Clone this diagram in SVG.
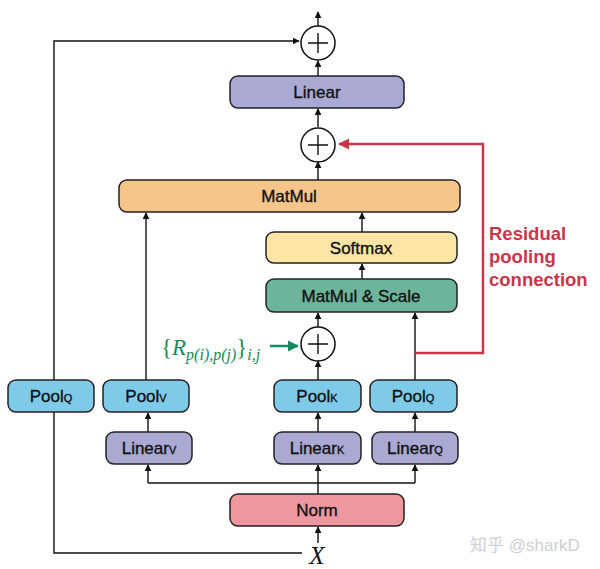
<svg xmlns="http://www.w3.org/2000/svg" width="600" height="569" viewBox="0 0 600 569">
<defs>
<marker id="ah" viewBox="0 0 10 10" refX="9" refY="5" markerWidth="5" markerHeight="5" orient="auto"><path d="M0,0L10,5L0,10z" fill="#111"/></marker>
<marker id="ahr" viewBox="0 0 10 10" refX="9" refY="5" markerWidth="4.5" markerHeight="4.5" orient="auto"><path d="M0,0L10,5L0,10z" fill="#c8364a"/></marker>
<marker id="ahg" viewBox="0 0 10 10" refX="9" refY="5" markerWidth="4.5" markerHeight="4.5" orient="auto"><path d="M0,0L10,5L0,10z" fill="#148a5c"/></marker>
</defs>
<style>
.b{stroke:#222;stroke-width:1.5}
.t{font-family:"Liberation Sans",Arial,sans-serif;font-size:17px;fill:#111;stroke:#111;stroke-width:0.35;text-anchor:middle}
.s{font-size:11px}
.c{stroke:#111;stroke-width:1.4;fill:none}
.cm{stroke:#111;stroke-width:1.4;fill:none;marker-end:url(#ah)}
.lin{fill:#a9a9d3}.pool{fill:#7ecbe9}
.pc{fill:#fff;stroke:#111;stroke-width:1.5}
</style>
<rect width="600" height="569" fill="#fff"/>
<g id="connectors">
<path class="cm" d="M318,26V12"/>
<path class="cm" d="M318,76V61"/>
<path class="cm" d="M318,127V109"/>
<path class="cm" d="M318,180V162"/>
<path class="cm" d="M362,232V213"/>
<path class="cm" d="M362,279V264"/>
<path class="cm" d="M318,327V313"/>
<path class="cm" d="M415,380V313"/>
<path class="cm" d="M146,380V213"/>
<path class="cm" d="M318,380V361"/>
<path class="cm" d="M148,432V413"/>
<path class="cm" d="M318,432V413"/>
<path class="cm" d="M415,432V413"/>
<path class="c" d="M148,483H415"/>
<path class="cm" d="M148,483V465"/>
<path class="cm" d="M318,494V465"/>
<path class="cm" d="M415,483V465"/>
<path class="cm" d="M318,543V527"/>
<path class="c" d="M302,553H54V412"/>
<path class="cm" d="M54,380V41H299"/>
<path d="M415,353H483V144H339" fill="none" stroke="#c8364a" stroke-width="2.5" marker-end="url(#ahr)"/>
<path d="M270,346H298" fill="none" stroke="#148a5c" stroke-width="2.5" marker-end="url(#ahg)"/>
</g>
<g id="plus1"><circle class="pc" cx="318" cy="43" r="17"/><path class="c" stroke-width="2.2" d="M308,43H328M318,33V53"/></g>
<g id="linear"><rect class="b lin" x="230" y="76" width="174" height="32" rx="8"/><text class="t" x="317" y="98">Linear</text></g>
<g id="plus2"><circle class="pc" cx="318" cy="145" r="17"/><path class="c" stroke-width="2.2" d="M308,145H328M318,135V155"/></g>
<g id="matmul"><rect class="b" fill="#f7c48a" x="119" y="180" width="341" height="32" rx="8"/><text class="t" x="289" y="202">MatMul</text></g>
<g id="softmax"><rect class="b" fill="#fde5a5" x="266" y="232" width="191" height="31" rx="8"/><text class="t" x="361" y="254">Softmax</text></g>
<g id="matmulscale"><rect class="b" fill="#6db59a" x="266" y="279" width="191" height="33" rx="8"/><text class="t" x="361" y="302">MatMul &amp; Scale</text></g>
<g id="plus3"><circle class="pc" cx="318" cy="344" r="17"/><path class="c" stroke-width="2.2" d="M308,344H328M318,334V354"/></g>
<g id="rpos"><text x="161" y="355" font-family="'Liberation Serif','Times New Roman',serif" font-size="23" fill="#148a5c">{<tspan font-style="italic">R</tspan><tspan font-style="italic" font-size="16" dy="5">p(i),p(j)</tspan><tspan dy="-5">}</tspan><tspan font-style="italic" font-size="16" dy="5">i,j</tspan></text></g>
<g id="poolq1"><rect class="b pool" x="8" y="380" width="86" height="32" rx="8"/><text class="t" x="51" y="402">Pool<tspan class="s">Q</tspan></text></g>
<g id="poolv"><rect class="b pool" x="103" y="380" width="86" height="32" rx="8"/><text class="t" x="146" y="402">Pool<tspan class="s">V</tspan></text></g>
<g id="poolk"><rect class="b pool" x="274" y="380" width="87" height="32" rx="8"/><text class="t" x="317" y="402">Pool<tspan class="s">K</tspan></text></g>
<g id="poolq2"><rect class="b pool" x="370" y="380" width="87" height="32" rx="8"/><text class="t" x="413" y="402">Pool<tspan class="s">Q</tspan></text></g>
<g id="linearv"><rect class="b lin" x="106" y="432" width="86" height="32" rx="8"/><text class="t" x="149" y="454">Linear<tspan class="s">V</tspan></text></g>
<g id="lineark"><rect class="b lin" x="274" y="432" width="87" height="32" rx="8"/><text class="t" x="317" y="454">Linear<tspan class="s">K</tspan></text></g>
<g id="linearq"><rect class="b lin" x="372" y="432" width="86" height="32" rx="8"/><text class="t" x="415" y="454">Linear<tspan class="s">Q</tspan></text></g>
<g id="norm"><rect class="b" fill="#ee979f" x="230" y="494" width="174" height="32" rx="8"/><text class="t" x="317" y="516">Norm</text></g>
<g id="x"><text x="317" y="564" font-family="'Liberation Serif','Times New Roman',serif" font-style="italic" font-size="25" fill="#111" text-anchor="middle">X</text></g>
<g id="residual-label" font-family="'Liberation Sans',Arial,sans-serif" font-weight="bold" font-size="18.5" fill="#c8364a">
<text x="489" y="240">Residual</text><text x="489" y="263">pooling</text><text x="489" y="286">connection</text>
</g>
<text x="470" y="551" font-family="'Liberation Sans','Noto Sans CJK SC',sans-serif" font-size="17" fill="#cfcfcf">知乎 @sharkD</text>
</svg>
